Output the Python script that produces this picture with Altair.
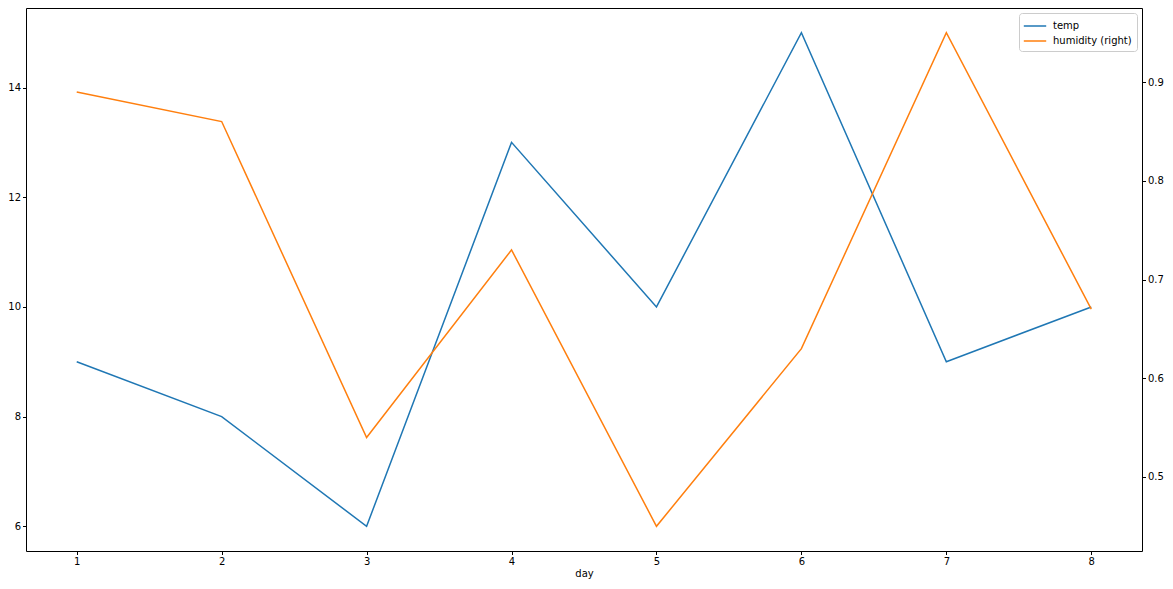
import altair as alt
import pandas as pd

days = [1, 2, 3, 4, 5, 6, 7, 8]
temp = [9, 8, 6, 13, 10, 15, 9, 10]
humidity = [0.89, 0.86, 0.54, 0.73, 0.45, 0.63, 0.95, 0.67]
series = ["temp", "humidity (right)"]
colors = ["#1f77b4", "#ff7f0e"]

df = pd.DataFrame({"day": days, "temp": temp, "humidity": humidity})

color = alt.Color("s:N", scale=alt.Scale(domain=series, range=colors),
                  legend=alt.Legend(title=None, orient="top-right", offset=5,
                                    symbolType="M-1.6,0H1.6", symbolSize=196,
                                    symbolStrokeWidth=1.5, labelFontSize=10,
                                    labelFont="DejaVu Sans", strokeColor="#cccccc",
                                    cornerRadius=3, padding=5, fillColor="white",
                                    symbolOffset=3, rowPadding=2, labelColor="black",
                                    labelOffset=10))

x = alt.X("day:Q", scale=alt.Scale(domain=[0.65, 8.35], nice=False, zero=False),
          axis=alt.Axis(values=days, title="day", grid=False, tickColor="black",
                        domain=False, labelFontSize=10, titleFontSize=10,
                        titleFontWeight="normal", labelColor="black", titleColor="black",
                        tickSize=3.5, labelPadding=2, titlePadding=2, labelFont="DejaVu Sans",
                        titleFont="DejaVu Sans"))

left = alt.Chart(df).transform_calculate(s="'temp'").mark_line(strokeWidth=1.5).encode(
    x=x,
    y=alt.Y("temp:Q", scale=alt.Scale(domain=[5.55, 15.45], nice=False, zero=False),
            axis=alt.Axis(values=[6, 8, 10, 12, 14], title=None, grid=False,
                          tickColor="black", domain=False, labelFontSize=10,
                          labelColor="black", tickSize=3.5, labelPadding=2,
                          labelFont="DejaVu Sans")),
    color=color,
)

right = alt.Chart(df).transform_calculate(s="'humidity (right)'").mark_line(strokeWidth=1.5).encode(
    x=x,
    y=alt.Y("humidity:Q", scale=alt.Scale(domain=[0.425, 0.975], nice=False, zero=False),
            axis=alt.Axis(orient="right", values=[0.5, 0.6, 0.7, 0.8, 0.9], format=".1f",
                          title=None, grid=False, tickColor="black", domain=False,
                          labelFontSize=10, labelColor="black", tickSize=3.5,
                          labelPadding=2, labelFont="DejaVu Sans")),
    color=color,
)

chart = alt.layer(left, right).resolve_scale(y="independent").properties(
    width=1116, height=543,
    autosize=alt.AutoSizeParams(type="none"),
    padding={"left": 18, "top": 0, "right": 22, "bottom": 31},
    background="white",
).configure_view(stroke="black", strokeWidth=1)

chart.save("out.html", embed_options={"renderer": "svg", "actions": False})
